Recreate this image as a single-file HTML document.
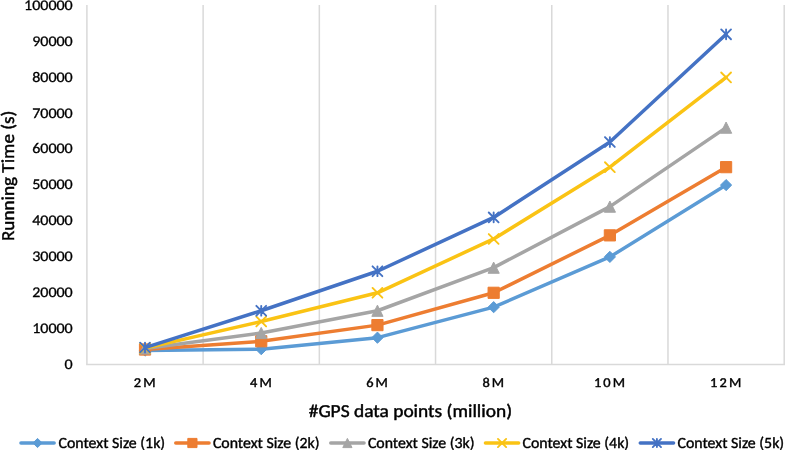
<!DOCTYPE html><html><head><meta charset="utf-8"><style>html,body{margin:0;padding:0;background:#fff;}svg{display:block;}text{text-rendering:geometricPrecision;font-family:Carlito, 'Liberation Sans', sans-serif;fill:#000;stroke:#000;stroke-width:0.45px;}</style></head><body>
<svg width="785" height="450" viewBox="0 0 785 450">
<rect width="785" height="450" fill="#fff"/>
<g stroke="#D9D9D9" stroke-width="1.5"><line x1="86.90" y1="5.10" x2="86.90" y2="364.60"/><line x1="203.12" y1="5.10" x2="203.12" y2="364.60"/><line x1="319.33" y1="5.10" x2="319.33" y2="364.60"/><line x1="435.55" y1="5.10" x2="435.55" y2="364.60"/><line x1="551.77" y1="5.10" x2="551.77" y2="364.60"/><line x1="667.98" y1="5.10" x2="667.98" y2="364.60"/><line x1="784.20" y1="5.10" x2="784.20" y2="364.60"/><line x1="86.15" y1="364.60" x2="784.95" y2="364.60"/></g>
<text x="64.60" y="368.80" font-size="14.8" textLength="8.10" lengthAdjust="spacingAndGlyphs" style="stroke-width:0.3px">0</text>
<text x="32.19" y="332.90" font-size="14.8" textLength="40.51" lengthAdjust="spacingAndGlyphs" style="stroke-width:0.3px">10000</text>
<text x="32.19" y="297.00" font-size="14.8" textLength="40.51" lengthAdjust="spacingAndGlyphs" style="stroke-width:0.3px">20000</text>
<text x="32.19" y="261.10" font-size="14.8" textLength="40.51" lengthAdjust="spacingAndGlyphs" style="stroke-width:0.3px">30000</text>
<text x="32.19" y="225.20" font-size="14.8" textLength="40.51" lengthAdjust="spacingAndGlyphs" style="stroke-width:0.3px">40000</text>
<text x="32.19" y="189.30" font-size="14.8" textLength="40.51" lengthAdjust="spacingAndGlyphs" style="stroke-width:0.3px">50000</text>
<text x="32.19" y="153.40" font-size="14.8" textLength="40.51" lengthAdjust="spacingAndGlyphs" style="stroke-width:0.3px">60000</text>
<text x="32.19" y="117.50" font-size="14.8" textLength="40.51" lengthAdjust="spacingAndGlyphs" style="stroke-width:0.3px">70000</text>
<text x="32.19" y="81.60" font-size="14.8" textLength="40.51" lengthAdjust="spacingAndGlyphs" style="stroke-width:0.3px">80000</text>
<text x="32.19" y="45.70" font-size="14.8" textLength="40.51" lengthAdjust="spacingAndGlyphs" style="stroke-width:0.3px">90000</text>
<text x="24.09" y="9.80" font-size="14.8" textLength="48.61" lengthAdjust="spacingAndGlyphs" style="stroke-width:0.3px">100000</text>
<g transform="translate(144.61 386.8) scale(1.06 1)"><text x="-10.26" y="0.00" font-size="13.6" textLength="20.52" lengthAdjust="spacing" style="stroke-width:0.4px">2M</text></g>
<g transform="translate(260.83 386.8) scale(1.06 1)"><text x="-10.26" y="0.00" font-size="13.6" textLength="20.52" lengthAdjust="spacing" style="stroke-width:0.4px">4M</text></g>
<g transform="translate(377.04 386.8) scale(1.06 1)"><text x="-10.26" y="0.00" font-size="13.6" textLength="20.52" lengthAdjust="spacing" style="stroke-width:0.4px">6M</text></g>
<g transform="translate(493.26 386.8) scale(1.06 1)"><text x="-10.26" y="0.00" font-size="13.6" textLength="20.52" lengthAdjust="spacing" style="stroke-width:0.4px">8M</text></g>
<g transform="translate(609.48 386.8) scale(1.06 1)"><text x="-14.71" y="0.00" font-size="13.6" textLength="29.41" lengthAdjust="spacing" style="stroke-width:0.4px">10M</text></g>
<g transform="translate(725.69 386.8) scale(1.06 1)"><text x="-14.71" y="0.00" font-size="13.6" textLength="29.41" lengthAdjust="spacing" style="stroke-width:0.4px">12M</text></g>
<text x="308.73" y="417.00" font-size="18.25" textLength="203.34" lengthAdjust="spacingAndGlyphs">#GPS data points (million)</text>
<g transform="translate(13.5 175.85) rotate(-90)"><text x="-65.23" y="0.00" font-size="18.25" textLength="130.45" lengthAdjust="spacingAndGlyphs">Running Time (s)</text></g>
<g><polyline points="145.01,350.60 261.23,349.16 377.44,337.68 493.66,307.16 609.88,256.90 726.09,185.10" fill="none" stroke="#5B9BD5" stroke-width="3.5" stroke-linejoin="round" stroke-linecap="round"/><path d="M145.01 345.00L150.61 350.60L145.01 356.20L139.41 350.60Z" fill="#5B9BD5" stroke="#5B9BD5" stroke-width="1" stroke-linejoin="round"/><path d="M261.23 343.56L266.83 349.16L261.23 354.76L255.63 349.16Z" fill="#5B9BD5" stroke="#5B9BD5" stroke-width="1" stroke-linejoin="round"/><path d="M377.44 332.07L383.04 337.68L377.44 343.28L371.84 337.68Z" fill="#5B9BD5" stroke="#5B9BD5" stroke-width="1" stroke-linejoin="round"/><path d="M493.66 301.56L499.26 307.16L493.66 312.76L488.06 307.16Z" fill="#5B9BD5" stroke="#5B9BD5" stroke-width="1" stroke-linejoin="round"/><path d="M609.88 251.30L615.48 256.90L609.88 262.50L604.27 256.90Z" fill="#5B9BD5" stroke="#5B9BD5" stroke-width="1" stroke-linejoin="round"/><path d="M726.09 179.50L731.69 185.10L726.09 190.70L720.49 185.10Z" fill="#5B9BD5" stroke="#5B9BD5" stroke-width="1" stroke-linejoin="round"/></g>
<g><polyline points="145.01,349.52 261.23,341.27 377.44,325.11 493.66,292.80 609.88,235.36 726.09,167.15" fill="none" stroke="#ED7D31" stroke-width="3.5" stroke-linejoin="round" stroke-linecap="round"/><rect x="139.41" y="343.92" width="11.20" height="11.20" fill="#ED7D31" stroke="#ED7D31" stroke-width="1" stroke-linejoin="round"/><rect x="255.63" y="335.67" width="11.20" height="11.20" fill="#ED7D31" stroke="#ED7D31" stroke-width="1" stroke-linejoin="round"/><rect x="371.84" y="319.51" width="11.20" height="11.20" fill="#ED7D31" stroke="#ED7D31" stroke-width="1" stroke-linejoin="round"/><rect x="488.06" y="287.20" width="11.20" height="11.20" fill="#ED7D31" stroke="#ED7D31" stroke-width="1" stroke-linejoin="round"/><rect x="604.27" y="229.76" width="11.20" height="11.20" fill="#ED7D31" stroke="#ED7D31" stroke-width="1" stroke-linejoin="round"/><rect x="720.49" y="161.55" width="11.20" height="11.20" fill="#ED7D31" stroke="#ED7D31" stroke-width="1" stroke-linejoin="round"/></g>
<g><polyline points="145.01,348.45 261.23,333.01 377.44,310.75 493.66,267.67 609.88,206.64 726.09,127.66" fill="none" stroke="#A5A5A5" stroke-width="3.5" stroke-linejoin="round" stroke-linecap="round"/><path d="M145.01 342.85L150.61 354.05L139.41 354.05Z" fill="#A5A5A5" stroke="#A5A5A5" stroke-width="1" stroke-linejoin="round"/><path d="M261.23 327.41L266.83 338.61L255.63 338.61Z" fill="#A5A5A5" stroke="#A5A5A5" stroke-width="1" stroke-linejoin="round"/><path d="M377.44 305.15L383.04 316.35L371.84 316.35Z" fill="#A5A5A5" stroke="#A5A5A5" stroke-width="1" stroke-linejoin="round"/><path d="M493.66 262.07L499.26 273.27L488.06 273.27Z" fill="#A5A5A5" stroke="#A5A5A5" stroke-width="1" stroke-linejoin="round"/><path d="M609.88 201.04L615.48 212.24L604.27 212.24Z" fill="#A5A5A5" stroke="#A5A5A5" stroke-width="1" stroke-linejoin="round"/><path d="M726.09 122.06L731.69 133.26L720.49 133.26Z" fill="#A5A5A5" stroke="#A5A5A5" stroke-width="1" stroke-linejoin="round"/></g>
<g><polyline points="145.01,348.09 261.23,321.52 377.44,292.80 493.66,238.95 609.88,167.15 726.09,77.40" fill="none" stroke="#FAC314" stroke-width="3.5" stroke-linejoin="round" stroke-linecap="round"/><path d="M140.11 343.19L149.91 352.99M149.91 343.19L140.11 352.99" stroke="#FAC314" stroke-width="1.9" fill="none" stroke-linecap="round"/><path d="M256.33 316.62L266.12 326.42M266.12 316.62L256.33 326.42" stroke="#FAC314" stroke-width="1.9" fill="none" stroke-linecap="round"/><path d="M372.54 287.90L382.34 297.70M382.34 287.90L372.54 297.70" stroke="#FAC314" stroke-width="1.9" fill="none" stroke-linecap="round"/><path d="M488.76 234.05L498.56 243.85M498.56 234.05L488.76 243.85" stroke="#FAC314" stroke-width="1.9" fill="none" stroke-linecap="round"/><path d="M604.98 162.25L614.77 172.05M614.77 162.25L604.98 172.05" stroke="#FAC314" stroke-width="1.9" fill="none" stroke-linecap="round"/><path d="M721.19 72.50L730.99 82.30M730.99 72.50L721.19 82.30" stroke="#FAC314" stroke-width="1.9" fill="none" stroke-linecap="round"/></g>
<g><polyline points="145.01,347.55 261.23,310.75 377.44,271.26 493.66,217.41 609.88,142.02 726.09,34.32" fill="none" stroke="#4472C4" stroke-width="3.5" stroke-linejoin="round" stroke-linecap="round"/><path d="M140.11 342.65L149.91 352.45M149.91 342.65L140.11 352.45M145.01 342.65L145.01 352.45" stroke="#4472C4" stroke-width="1.9" fill="none" stroke-linecap="round"/><path d="M256.33 305.85L266.12 315.65M266.12 305.85L256.33 315.65M261.23 305.85L261.23 315.65" stroke="#4472C4" stroke-width="1.9" fill="none" stroke-linecap="round"/><path d="M372.54 266.36L382.34 276.16M382.34 266.36L372.54 276.16M377.44 266.36L377.44 276.16" stroke="#4472C4" stroke-width="1.9" fill="none" stroke-linecap="round"/><path d="M488.76 212.51L498.56 222.31M498.56 212.51L488.76 222.31M493.66 212.51L493.66 222.31" stroke="#4472C4" stroke-width="1.9" fill="none" stroke-linecap="round"/><path d="M604.98 137.12L614.77 146.92M614.77 137.12L604.98 146.92M609.88 137.12L609.88 146.92" stroke="#4472C4" stroke-width="1.9" fill="none" stroke-linecap="round"/><path d="M721.19 29.42L730.99 39.22M730.99 29.42L721.19 39.22M726.09 29.42L726.09 39.22" stroke="#4472C4" stroke-width="1.9" fill="none" stroke-linecap="round"/></g>
<line x1="20.95" y1="443.0" x2="54.15" y2="443.0" stroke="#5B9BD5" stroke-width="3.5" stroke-linecap="round"/>
<path d="M37.55 438.40L42.15 443.00L37.55 447.60L32.95 443.00Z" fill="#5B9BD5" stroke="#5B9BD5" stroke-width="1" stroke-linejoin="round"/>
<text x="58.50" y="447.50" font-size="15.6" textLength="106.64" lengthAdjust="spacingAndGlyphs" style="stroke-width:0.38px">Context Size (1k)</text>
<line x1="175.75" y1="443.0" x2="209.05" y2="443.0" stroke="#ED7D31" stroke-width="3.5" stroke-linecap="round"/>
<rect x="187.80" y="438.40" width="9.20" height="9.20" fill="#ED7D31" stroke="#ED7D31" stroke-width="1" stroke-linejoin="round"/>
<text x="212.90" y="447.50" font-size="15.6" textLength="106.64" lengthAdjust="spacingAndGlyphs" style="stroke-width:0.38px">Context Size (2k)</text>
<line x1="330.75" y1="443.0" x2="364.05" y2="443.0" stroke="#A5A5A5" stroke-width="3.5" stroke-linecap="round"/>
<path d="M347.40 438.40L352.00 447.60L342.80 447.60Z" fill="#A5A5A5" stroke="#A5A5A5" stroke-width="1" stroke-linejoin="round"/>
<text x="367.90" y="447.50" font-size="15.6" textLength="106.64" lengthAdjust="spacingAndGlyphs" style="stroke-width:0.38px">Context Size (3k)</text>
<line x1="485.45" y1="443.0" x2="518.65" y2="443.0" stroke="#FAC314" stroke-width="3.5" stroke-linecap="round"/>
<path d="M497.95 438.90L506.15 447.10M506.15 438.90L497.95 447.10" stroke="#FAC314" stroke-width="1.9" fill="none" stroke-linecap="round"/>
<text x="522.50" y="447.50" font-size="15.6" textLength="106.64" lengthAdjust="spacingAndGlyphs" style="stroke-width:0.38px">Context Size (4k)</text>
<line x1="640.25" y1="443.0" x2="673.55" y2="443.0" stroke="#4472C4" stroke-width="3.5" stroke-linecap="round"/>
<path d="M652.80 438.90L661.00 447.10M661.00 438.90L652.80 447.10M656.90 438.90L656.90 447.10" stroke="#4472C4" stroke-width="1.9" fill="none" stroke-linecap="round"/>
<text x="677.50" y="447.50" font-size="15.6" textLength="106.64" lengthAdjust="spacingAndGlyphs" style="stroke-width:0.38px">Context Size (5k)</text>
</svg></body></html>
